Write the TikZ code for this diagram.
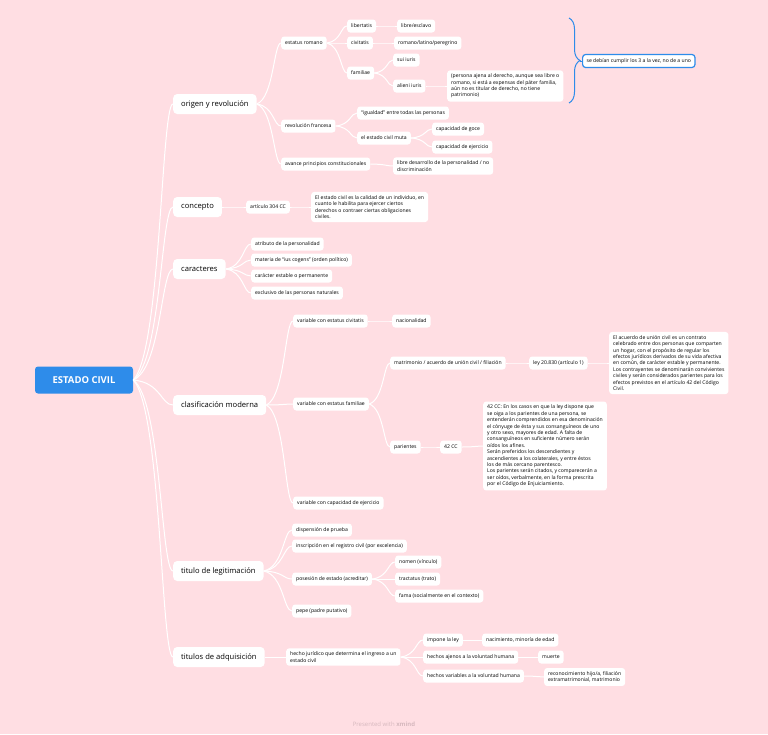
\documentclass[tikz,border=0pt]{standalone}
\usepackage{fontspec}
\setmainfont{Open Sans}
\usetikzlibrary{calc,decorations.pathreplacing}

\definecolor{bgpink}{RGB}{255,222,227}
\definecolor{xblue}{RGB}{46,140,234}
\definecolor{footgray}{RGB}{214,184,190}

\tikzset{
    central/.style={fill=xblue,text=white,rounded corners=3pt,minimum width=98,minimum height=27,
        font=\fontsize{9.5}{11}\selectfont\bfseries},
    branch/.style={fill=white,rounded corners=4pt,inner xsep=8pt,inner ysep=0pt,minimum height=20,
        anchor=west,font=\fontsize{7.6}{9}\selectfont},
    topic/.style={fill=white,rounded corners=3pt,inner xsep=4pt,inner ysep=0pt,minimum height=13,
        anchor=west,font=\fontsize{5.1}{6.4}\selectfont},
    note/.style={topic,align=left,inner ysep=3.5pt},
    link/.style={white,line width=1pt},
}

% curved connector from parent (east) to child (west)
\newcommand{\link}[2]{\draw[link] let \p1=(#1.east), \p2=(#2.west) in
    (\p1) .. controls ({\x1+0.7*(\x2-\x1)},{\y1+0.1*(\y2-\y1)}) and ({\x1+0.7*(\x2-\x1)},\y2) .. (\p2);}

\begin{document}
\begin{tikzpicture}[x=1pt,y=-1pt]
    \fill[bgpink] (0,0) rectangle (768,734);
    \useasboundingbox (0,0) rectangle (768,734);

    % centre and main branches
    \node[central] (root) at (84,380) {ESTADO CIVIL};
    \node[branch] (origen) at (173,104) {origen y revolución};
    \node[branch] (concepto) at (173,207) {concepto};
    \node[branch] (caracteres) at (173,269) {caracteres};
    \node[branch] (clasif) at (173,405) {clasificación moderna};
    \node[branch] (legit) at (173,571) {titulo de legitimación};
    \node[branch] (adquis) at (173,657) {titulos de adquisición};

    % origen y revolucion
    \node[topic] (romano) at (281,43) {estatus romano};
    \node[topic] (francesa) at (281,126) {revolución francesa};
    \node[topic] (avance) at (281,164) {avance principios constitucionales};
    \node[topic] (libertatis) at (347,26) {libertatis};
    \node[topic] (civitatis) at (347,43) {civitatis};
    \node[topic] (familiae) at (347,73) {familiae};
    \node[topic] (libre) at (397,26) {libre/esclavo};
    \node[topic] (peregrino) at (394,43) {romano/latino/peregrino};
    \node[topic] (sui) at (393,60) {sui iuris};
    \node[topic] (alieni) at (393,86) {alieni iuris};
    \node[note] (ajena) at (447,86) {(persona ajena al derecho, aunque sea libre o\\romano, si está a expensas del páter familia,\\aún no es titular de derecho, no tiene\\patrimonio)};
    \node[topic] (igualdad) at (357,113) {“igualdad” entre todas las personas};
    \node[topic] (muta) at (357,138) {el estado civil muta};
    \node[topic] (goce) at (432,129) {capacidad de goce};
    \node[topic] (ejercicio) at (432,147) {capacidad de ejercicio};
    \node[note] (desarrollo) at (393,166) {libre desarrollo de la personalidad / no\\discriminación};
    \node[topic,draw=xblue,line width=1.2pt] (cumplir) at (582,61) {se debían cumplir los 3 a la vez, no de a uno};
    \draw[xblue,line width=1pt,decorate,decoration={brace,amplitude=11pt}] (569,18) -- (569,103);
    \coordinate (bracetip) at (580,61);

    % concepto
    \node[topic] (art304) at (246,207) {artículo 304 CC};
    \node[note] (estadodef) at (311,207) {El estado civil es la calidad de un individuo, en\\cuanto le habilita para ejercer ciertos\\derechos o contraer ciertas obligaciones\\civiles.};

    % caracteres
    \node[topic] (atributo) at (251,244) {atributo de la personalidad};
    \node[topic] (cogens) at (251,260) {materia de “ius cogens” (orden político)};
    \node[topic] (estable) at (251,276) {carácter estable o permanente};
    \node[topic] (exclusivo) at (251,293) {exclusivo de las personas naturales};

    % clasificacion moderna
    \node[topic] (vcivitatis) at (293,321) {variable con estatus civitatis};
    \node[topic] (nacionalidad) at (392,321) {nacionalidad};
    \node[topic] (vfamiliae) at (293,404) {variable con estatus familiae};
    \node[topic] (matrimonio) at (390,363) {matrimonio / acuerdo de unión civil / filiación};
    \node[topic] (ley) at (529,363) {ley 20.830 (artículo 1)};
    \node[note] (acuerdo) at (609,363) {El acuerdo de unión civil es un contrato\\celebrado entre dos personas que comparten\\un hogar, con el propósito de regular los\\efectos jurídicos derivados de su vida afectiva\\en común, de carácter estable y permanente.\\Los contrayentes se denominarán convivientes\\civiles y serán considerados parientes para los\\efectos previstos en el artículo 42 del Código\\Civil.};
    \node[topic] (parientes) at (390,447) {parientes};
    \node[topic] (cc42) at (440,447) {42 CC};
    \node[note] (cctext) at (483,446) {42 CC: En los casos en que la ley dispone que\\se oiga a los parientes de una persona, se\\entenderán comprendidos en esa denominación\\el cónyuge de ésta y sus consanguíneos de uno\\y otro sexo, mayores de edad. A falta de\\consanguíneos en suficiente número serán\\oídos los afines.\\Serán preferidos los descendientes y\\ascendientes a los colaterales, y entre éstos\\los de más cercano parentesco.\\Los parientes serán citados, y comparecerán a\\ser oídos, verbalmente, en la forma prescrita\\por el Código de Enjuiciamiento.};
    \node[topic] (vcapacidad) at (293,503) {variable con capacidad de ejercicio};

    % titulo de legitimacion
    \node[topic] (dispension) at (292,530) {dispensión de prueba};
    \node[topic] (inscripcion) at (292,546) {inscripción en el registro civil (por excelencia)};
    \node[topic] (posesion) at (292,579) {posesión de estado (acreditar)};
    \node[topic] (pepe) at (292,611) {pepe (padre putativo)};
    \node[topic] (nomen) at (395,562) {nomen (vínculo)};
    \node[topic] (tractatus) at (395,579) {tractatus (trato)};
    \node[topic] (fama) at (395,596) {fama (socialmente en el contexto)};

    % titulos de adquisicion
    \node[note] (hecho) at (286,657) {hecho jurídico que determina el ingreso a un\\estado civil};
    \node[topic] (impone) at (423,640) {impone la ley};
    \node[topic] (nacimiento) at (482,640) {nacimiento, minoría de edad};
    \node[topic] (ajenos) at (423,657) {hechos ajenos a la voluntad humana};
    \node[topic] (muerte) at (538,657) {muerte};
    \node[topic] (variables) at (423,676) {hechos variables a la voluntad humana};
    \node[note] (reconoc) at (544,677) {reconocimiento hijo/a, filiación\\extramatrimonial, matrimonio};

    \node[font=\fontsize{6}{7}\selectfont,text=footgray] (footer) at (384,724) {Presented with \textbf{xmind}};

    % connectors
    \foreach \b in {origen,concepto,caracteres,clasif,legit,adquis}
        {\link{root}{\b}}
    \foreach \c in {romano,francesa,avance}
        {\link{origen}{\c}}
    \foreach \c in {libertatis,civitatis,familiae}
        {\link{romano}{\c}}
    \link{libertatis}{libre}
    \link{civitatis}{peregrino}
    \link{familiae}{sui}
    \link{familiae}{alieni}
    \link{alieni}{ajena}
    \link{francesa}{igualdad}
    \link{francesa}{muta}
    \link{muta}{goce}
    \link{muta}{ejercicio}
    \link{avance}{desarrollo}
    \draw[xblue,line width=1pt] (bracetip) -- (cumplir.west);
    \link{concepto}{art304}
    \link{art304}{estadodef}
    \foreach \c in {atributo,cogens,estable,exclusivo}
        {\link{caracteres}{\c}}
    \foreach \c in {vcivitatis,vfamiliae,vcapacidad}
        {\link{clasif}{\c}}
    \link{vcivitatis}{nacionalidad}
    \link{vfamiliae}{matrimonio}
    \link{vfamiliae}{parientes}
    \link{matrimonio}{ley}
    \link{ley}{acuerdo}
    \link{parientes}{cc42}
    \link{cc42}{cctext}
    \foreach \c in {dispension,inscripcion,posesion,pepe}
        {\link{legit}{\c}}
    \foreach \c in {nomen,tractatus,fama}
        {\link{posesion}{\c}}
    \link{adquis}{hecho}
    \foreach \c in {impone,ajenos,variables}
        {\link{hecho}{\c}}
    \link{impone}{nacimiento}
    \link{ajenos}{muerte}
    \link{variables}{reconoc}
\end{tikzpicture}
\end{document}
